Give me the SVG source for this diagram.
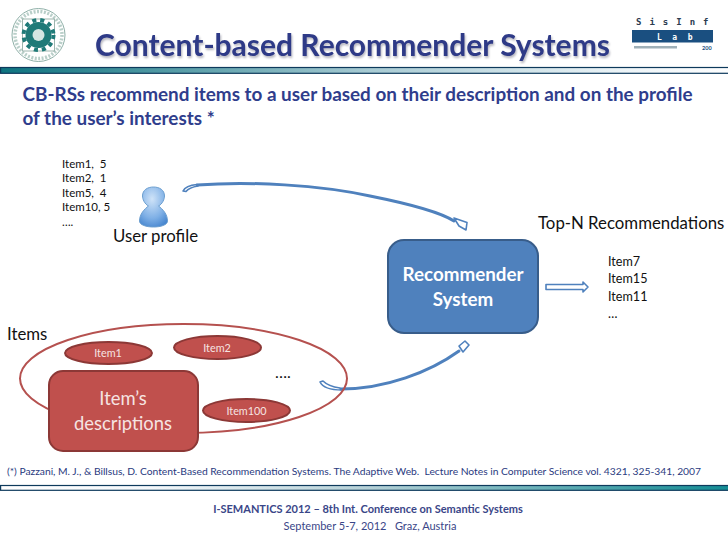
<svg xmlns="http://www.w3.org/2000/svg" width="728" height="546" viewBox="0 0 728 546">
<style>
text{font-family:Lato,"Open Sans",sans-serif;white-space:pre}
.title{font-size:30px;font-weight:700;fill:#2e3a87;filter:drop-shadow(1px 2px 1px rgba(90,90,110,.45))}
.sub{font-size:18.9px;font-weight:700;fill:#2f3d8c}
.small{font-size:11.5px;fill:#111}
.res{font-size:12.6px;fill:#111}
.label{font-size:16.8px;fill:#111}
.w{fill:#fff;text-anchor:middle;font-size:18.8px;font-weight:700}
.wr{fill:#f6e4e2;text-anchor:middle}
.red{fill:#c0504d;stroke:#8c3836;stroke-width:2}
.conn{fill:#fff;stroke:#4f81bd;stroke-width:1.6;stroke-linejoin:round}
.line{fill:none;stroke:#4f81bd;stroke-width:3;stroke-linecap:round}
.edge{stroke:#0e3a5c;stroke-width:1.2}
</style>
<defs>
<linearGradient id="bar" x1="0" x2="1" y1="0" y2="0"><stop offset="0" stop-color="#0e7480"/><stop offset=".5" stop-color="#a8cbd3"/><stop offset=".85" stop-color="#eef5f8"/><stop offset="1" stop-color="#fff"/></linearGradient>
<linearGradient id="bar2" x1="0" x2="1" y1="0" y2="0"><stop offset="0" stop-color="#fff"/><stop offset=".2" stop-color="#f4f8fb"/><stop offset=".5" stop-color="#b4d0d6"/><stop offset="1" stop-color="#0e8a92"/></linearGradient>
<radialGradient id="person" cx=".45" cy=".3" r=".8"><stop offset="0" stop-color="#cfe3f8"/><stop offset=".6" stop-color="#7fb0e6"/><stop offset="1" stop-color="#3f80cc"/></radialGradient>
</defs>
<g id="header">
<g id="logo-left" fill="none">
<circle cx="38.500" cy="35" r="26.500" stroke-width="1" stroke="#8fb0a8"/>
<circle cx="38.500" cy="35" r="23.500" stroke-width="3.500" stroke-dasharray="2 1.500" stroke="#b9cfc9"/>
<rect x="22.500" y="19" width="32" height="32" stroke-width="1" stroke="#9db5ae"/>
<circle cx="38.500" cy="35" r="13" fill="#1f7a78"/>
<circle cx="38.500" cy="35" r="15" stroke="#1f7a78" stroke-width="4" stroke-dasharray="4 4"/>
<circle cx="38.500" cy="35" r="6" fill="#d5e5e2"/>
</g>
<rect class="edge" x="0.600" y="67.500" width="740" height="5.800" fill="url(#bar)"/>
<text class="title" x="95" y="56">Content-based Recommender Systems</text>
<g id="logo-right">
<text x="636" y="25" font-size="9" font-weight="700" fill="#2c3c50" letter-spacing="8" style="font-family:'DejaVu Sans Mono',monospace">SisInf</text>
<rect x="632" y="30" width="81" height="12.500" fill="#1a4f80"/>
<text x="657" y="39.500" font-size="8" font-weight="700" fill="#fff" letter-spacing="10.500" style="font-family:'DejaVu Sans Mono',monospace">Lab</text>
<rect x="634" y="46" width="43" height="2.500" fill="#9fb0b8"/>
<text x="702" y="50" font-size="5.500" font-weight="700" fill="#1a4f80">200</text>
</g>
</g>
<text class="sub" x="22.500" y="101">CB-RSs recommend items to a user based on their description and on the profile</text>
<text class="sub" x="22.500" y="125">of the user’s interests *</text>
<g id="user-ratings">
<text class="small" x="62" y="168">Item1,  5</text>
<text class="small" x="62" y="182">Item2,  1</text>
<text class="small" x="62" y="197">Item5,  4</text>
<text class="small" x="62" y="211">Item10, 5</text>
<text class="small" x="62" y="226">….</text>
</g>
<g id="user-profile">
<path d="M139.500 221c0-7 5-12 9-15-4-2-6-7-6-10 0-6 5-9 11-9s11 3 11 9c0 3-2 8-6 10 4 3 9 8 9 15 0 4-7 6-14 6s-14-2-14-6z" fill="url(#person)" stroke="#6c9fd0"/>
<text class="label" x="113" y="242">User profile</text>
</g>
<g id="connectors">
<path id="c1-tail" class="conn" d="M183 191C185 187 190 185 197 184.500L198 186C192 187 188 189 186 191.500Z"/>
<path id="c1" class="line" d="M197 185C250 181 320 185 370 196C410 204 440 212 454 221"/>
<path id="c1-head" class="conn" d="M454 218L467 222.500L466 230L459 226Z"/>
<path id="c2-tail" class="conn" d="M320 382L323 381C327 385 333 387 340 388L342 390C332 390 323 388 320 382Z"/>
<path id="c2" class="line" d="M341 389C385 389 430 372 459 351"/>
<path id="c2-head" class="conn" d="M459 346L465 341L469 345L463 352Z"/>
<path id="c3" class="conn" stroke-width="1.300" d="M546 284.500H583V282L588 287L583 292V289.500H546Z"/>
</g>
<g id="recommender">
<rect x="388" y="240" width="150" height="93" rx="16" fill="#4f81bd" stroke="#385d8a" stroke-width="2"/>
<text class="w" x="463" y="280.500">Recommender</text>
<text class="w" x="463" y="305.500">System</text>
</g>
<text class="label" x="538" y="228.500">Top-N Recommendations</text>
<g id="results">
<text class="res" x="608" y="266">Item7</text>
<text class="res" x="608" y="283">Item15</text>
<text class="res" x="608" y="301">Item11</text>
<text class="res" x="608" y="318">…</text>
</g>
<text class="label" x="7" y="339.500">Items</text>
<g id="items-set"><ellipse cx="183.500" cy="378.500" rx="163.500" ry="54.500" fill="none" stroke="#b5514f" stroke-width="2"/></g>
<g id="item1"><ellipse cx="108.500" cy="353" rx="43.500" ry="11" class="red"/><text class="wr" x="108" y="357" font-size="10.800">Item1</text></g>
<g id="item2"><ellipse cx="217.500" cy="347.500" rx="43.500" ry="11.500" class="red"/><text class="wr" x="217" y="352" font-size="10.800">Item2</text></g>
<g id="item100"><ellipse cx="246.500" cy="410.500" rx="43.500" ry="11.500" class="red"/><text class="wr" x="246.500" y="415" font-size="10.800">Item100</text></g>
<text x="275" y="378" font-size="16" fill="#111">….</text>
<g id="descriptions">
<rect x="49" y="371" width="149" height="80" rx="14" fill="#c0504d" stroke="#8c3836" stroke-width="2"/>
<text class="wr" x="123" y="405" font-size="18.400">Item’s</text>
<text class="wr" x="123" y="430" font-size="18.400">descriptions</text>
</g>
<text x="7" y="475" font-size="10.300" fill="#2a3a80" textLength="694">(*) Pazzani, M. J., &amp; Billsus, D. Content-Based Recommendation Systems. The Adaptive Web.  Lecture Notes in Computer Science vol. 4321, 325-341, 2007</text>
<rect class="edge" x="0.600" y="485.500" width="740" height="4.800" fill="url(#bar2)"/>
<g id="footer">
<text x="368" y="513" text-anchor="middle" font-size="11" font-weight="700" fill="#3a4688">I-SEMANTICS 2012 – 8th Int. Conference on Semantic Systems</text>
<text x="370" y="530" text-anchor="middle" font-size="11" fill="#3a4688">September 5-7, 2012   Graz, Austria</text>
</g>
</svg>
